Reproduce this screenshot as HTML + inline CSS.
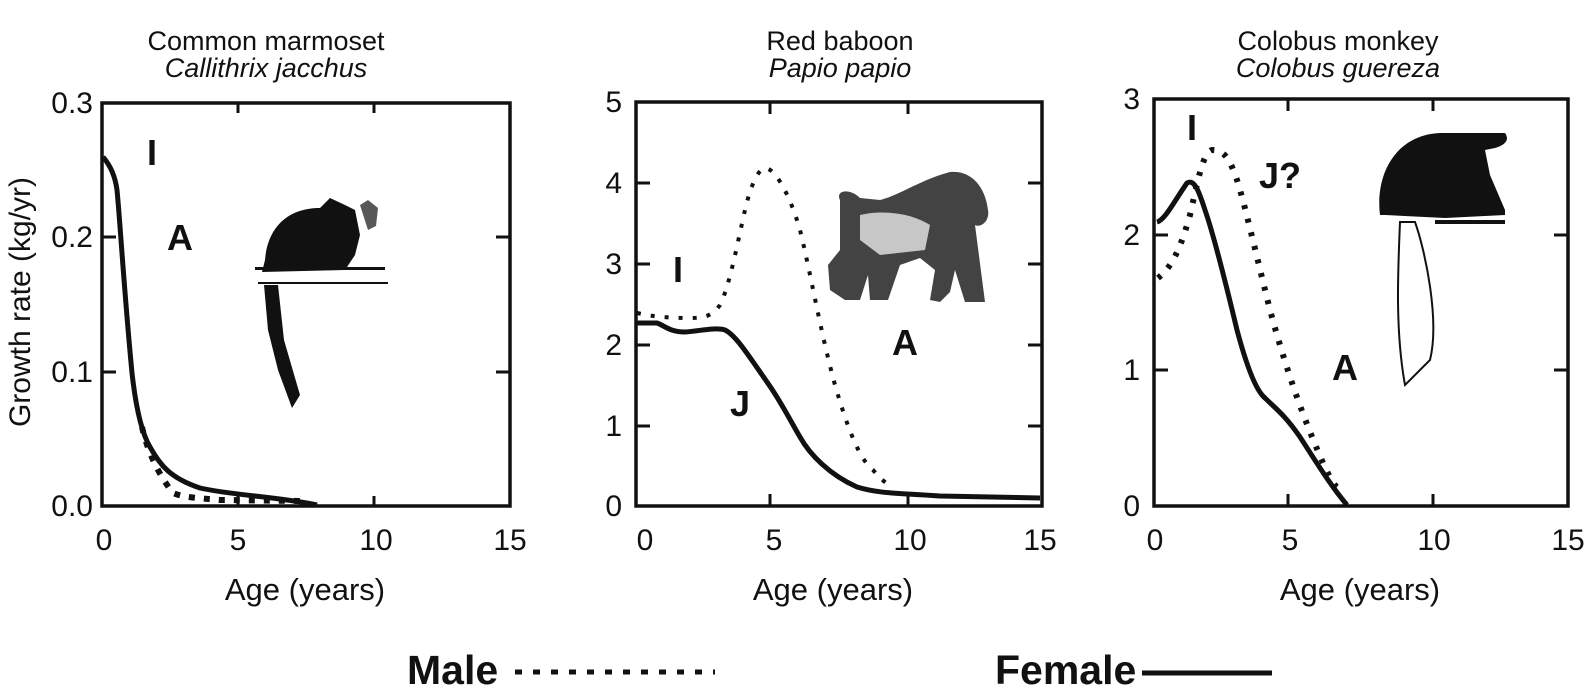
<!DOCTYPE html>
<html><head><meta charset="utf-8"><style>
body{margin:0;background:#fff;}
svg{display:block;font-family:"Liberation Sans",Arial,sans-serif;}
</style></head><body>
<svg width="1595" height="700" viewBox="0 0 1595 700" xmlns="http://www.w3.org/2000/svg">
<g fill="#111" font-size="27" text-anchor="middle">
<text x="266" y="50">Common marmoset</text>
<text x="266" y="77" font-style="italic">Callithrix jacchus</text>
<text x="840" y="50">Red baboon</text>
<text x="840" y="77" font-style="italic">Papio papio</text>
<text x="1338" y="50">Colobus monkey</text>
<text x="1338" y="77" font-style="italic">Colobus guereza</text>
</g>
<text transform="translate(30,302) rotate(-90)" font-size="30" text-anchor="middle" fill="#111">Growth rate (kg/yr)</text>

<!-- Panel 1 -->
<g stroke="#111" stroke-width="3.5" fill="none">
<rect x="102" y="103" width="408" height="403"/>
<path d="M102 237h14M102 372h14M496 237h14M496 372h14M238 103v10M374 103v10M238 506v-10M374 506v-10" stroke-width="3"/>
</g>
<g font-size="30" fill="#111" text-anchor="middle">
<text x="93" y="113" text-anchor="end">0.3</text><text x="93" y="247" text-anchor="end">0.2</text>
<text x="93" y="382" text-anchor="end">0.1</text><text x="93" y="516" text-anchor="end">0.0</text>
<text x="104" y="550">0</text><text x="238" y="550">5</text><text x="376" y="550">10</text><text x="510" y="550">15</text>
<text x="305" y="600" font-size="31">Age (years)</text>
</g>
<path d="M103 157 C110 165,115 175,117 190 C120 220,124 290,132 373 C135 400,140 430,150 447 C160 465,170 478,200 488 C230 495,280 497,317 505" stroke="#111" stroke-width="5" fill="none"/>
<path d="M142 427 C146 445,155 470,173 493 C185 498,200 498,220 500 L300 501" stroke="#111" stroke-width="6" fill="none" stroke-dasharray="6 9"/>
<g font-weight="bold" font-size="36" fill="#111" text-anchor="middle">
<text x="152" y="165">I</text><text x="180" y="250">A</text>
</g>
<g fill="#111">
<path d="M265 260 C268 225,290 208,320 208 L330 198 L345 205 L355 210 L360 235 L355 255 L345 270 L262 272 Z"/>
<path d="M360 205 l8 -5 l10 8 l-2 18 l-8 4 z" opacity="0.7"/>
<rect x="255" y="267" width="130" height="3"/>
<rect x="258" y="282" width="130" height="2"/>
<path d="M264 285 L278 285 L284 340 L300 395 L292 408 L278 370 L268 330 Z"/>
</g>

<!-- Panel 2 -->
<g stroke="#111" stroke-width="3.5" fill="none">
<rect x="636" y="102" width="406" height="404"/>
<path d="M636 183h14M636 264h14M636 345h14M636 426h14M1028 183h14M1028 264h14M1028 345h14M1028 426h14M770 102v12M908 102v12M770 506v-12M908 506v-12" stroke-width="3"/>
</g>
<g font-size="30" fill="#111" text-anchor="middle">
<text x="622" y="112" text-anchor="end">5</text><text x="622" y="193" text-anchor="end">4</text>
<text x="622" y="274" text-anchor="end">3</text><text x="622" y="355" text-anchor="end">2</text>
<text x="622" y="436" text-anchor="end">1</text><text x="622" y="516" text-anchor="end">0</text>
<text x="645" y="550">0</text><text x="774" y="550">5</text><text x="910" y="550">10</text><text x="1040" y="550">15</text>
<text x="833" y="600" font-size="31">Age (years)</text>
</g>
<path d="M637 323 L657 323 C665 326,670 332,685 332 C700 331,715 327,725 330 C735 335,745 350,767 382 C780 400,790 420,800 437 C810 455,830 475,857 487 C880 494,900 493,940 496 L1040 498" stroke="#111" stroke-width="5" fill="none"/>
<path d="M637 313 C650 316,665 318,690 318 C705 318,712 316,720 305 C730 285,738 240,745 210 C752 180,760 168,765 168 C775 168,790 195,800 230 C810 270,820 330,835 385 C848 430,860 460,873 470 C880 478,885 483,890 485" stroke="#111" stroke-width="4" fill="none" stroke-dasharray="4 10"/>
<g font-weight="bold" font-size="36" fill="#111" text-anchor="middle">
<text x="678" y="282">I</text><text x="905" y="355">A</text><text x="740" y="416">J</text>
</g>
<g fill="#111">
<path d="M840 200 C835 190,850 188,860 198 L880 200 C900 195,920 180,950 172 C970 170,985 185,988 210 C990 222,980 228,975 225 L985 302 L965 302 L955 270 L950 292 L940 302 L930 300 L935 270 L920 258 L900 265 L888 300 L870 300 L868 275 L860 300 L845 300 L830 290 L828 265 L840 250 Z" fill="#222" opacity="0.85"/>
<path d="M860 215 C880 210,910 212,930 225 L925 250 L880 255 L860 240 Z" fill="#fff" opacity="0.7"/>
</g>

<!-- Panel 3 -->
<g stroke="#111" stroke-width="3.5" fill="none">
<rect x="1154" y="99" width="414" height="407"/>
<path d="M1154 235h14M1154 370h14M1554 235h14M1554 370h14M1288 99v12M1433 99v12M1288 506v-12M1433 506v-12" stroke-width="3"/>
</g>
<g font-size="30" fill="#111" text-anchor="middle">
<text x="1140" y="109" text-anchor="end">3</text><text x="1140" y="245" text-anchor="end">2</text>
<text x="1140" y="380" text-anchor="end">1</text><text x="1140" y="516" text-anchor="end">0</text>
<text x="1155" y="550">0</text><text x="1290" y="550">5</text><text x="1434" y="550">10</text><text x="1568" y="550">15</text>
<text x="1360" y="600" font-size="31">Age (years)</text>
</g>
<path d="M1157 222 C1165 220,1175 200,1187 183 C1195 178,1200 195,1205 210 C1212 230,1225 280,1237 330 C1245 360,1255 390,1265 398 C1275 408,1285 415,1300 437 C1315 460,1330 485,1347 505" stroke="#111" stroke-width="5" fill="none"/>
<path d="M1158 278 C1168 270,1178 258,1190 215 C1198 180,1203 152,1212 150 C1225 150,1230 160,1237 180 C1245 205,1255 250,1270 310 C1285 365,1300 410,1323 463 C1330 478,1334 485,1337 487" stroke="#111" stroke-width="6" fill="none" stroke-dasharray="4 10"/>
<g font-weight="bold" font-size="36" fill="#111" text-anchor="middle">
<text x="1192" y="140">I</text><text x="1280" y="188">J?</text><text x="1345" y="380">A</text>
</g>
<g fill="#111">
<path d="M1380 215 C1375 175,1395 135,1440 133 L1505 133 C1510 140,1505 145,1495 148 L1485 150 L1490 175 L1505 210 L1505 215 L1445 218 L1385 215 Z"/>
<rect x="1435" y="220" width="70" height="4"/>
<path d="M1400 222 L1415 222 C1425 250,1440 320,1430 360 L1405 385 C1395 330,1398 270,1400 222 Z" fill="none" stroke="#111" stroke-width="2"/>
</g>

<!-- Legend -->
<g font-weight="bold" font-size="41" fill="#111">
<text x="407" y="684">Male</text>
<text x="995" y="684">Female</text>
</g>
<path d="M515 672 H715" stroke="#111" stroke-width="5" stroke-dasharray="7 11"/>
<path d="M1142 673 H1272" stroke="#111" stroke-width="5"/>
</svg>
</body></html>
